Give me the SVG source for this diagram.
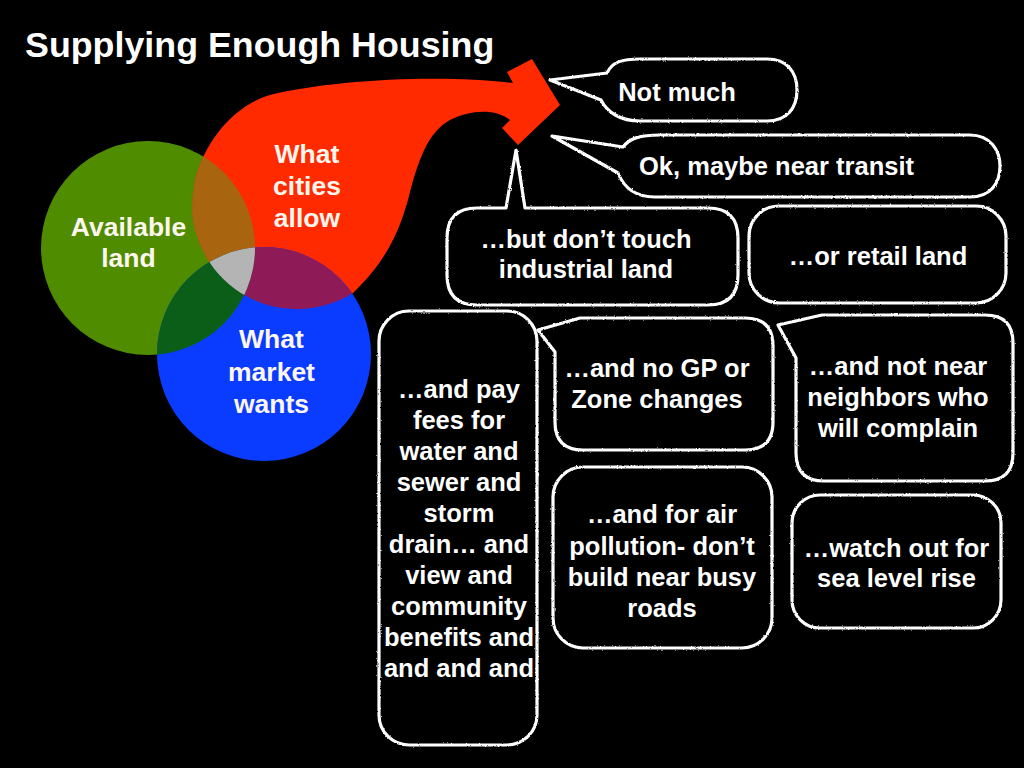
<svg xmlns="http://www.w3.org/2000/svg" width="1024" height="768" viewBox="0 0 1024 768">
<style>
.t{font-family:"Liberation Sans",Arial,sans-serif;font-weight:bold;fill:#fff;text-anchor:middle;font-size:25.5px}
.v{font-family:"Liberation Sans",Arial,sans-serif;font-weight:bold;fill:#fdf6ee;text-anchor:middle;font-size:26.5px}
.b{fill:#000;stroke:#fff;stroke-width:3.2;stroke-linejoin:round;filter:url(#rough)}
</style>
<defs>
<filter id="rough" x="-5%" y="-5%" width="110%" height="110%">
<feTurbulence type="fractalNoise" baseFrequency="0.6" numOctaves="2" seed="3" result="n"/>
<feDisplacementMap in="SourceGraphic" in2="n" scale="2.2" xChannelSelector="R" yChannelSelector="G"/>
</filter>
<path id="redShape" d="M 192,204 A 105 105 0 0 0 353,293 C 385,262 398,235 408,200 C 418,160 428,132 450,120 C 470,110 495,108 510,120 L 502,128 L 518,145 L 560,105 L 532,59 L 507,72 L 513,83 C 440,74 330,80 270,95 C 235,105 205,140 195,180 Z"/>
<clipPath id="cRed"><use href="#redShape"/></clipPath>
<clipPath id="cGreen"><circle cx="148" cy="248" r="107"/></clipPath>
<clipPath id="cBlue"><circle cx="264" cy="354" r="107"/></clipPath>
</defs>
<rect width="1024" height="768" fill="#000"/>

<g id="title">
<text x="25" y="57" style="font-family:'Liberation Sans',Arial,sans-serif;font-weight:bold;font-size:35.8px;fill:#fff">Supplying Enough Housing</text>
</g>

<g id="venn">
<circle cx="148" cy="248" r="107" fill="#4f8c00"/>
<use href="#redShape" fill="#ff2a00"/>
<circle cx="264" cy="354" r="107" fill="#0a3cff"/>
<circle cx="148" cy="248" r="107" fill="#a8640e" clip-path="url(#cRed)"/>
<circle cx="264" cy="354" r="107" fill="#8e1a58" clip-path="url(#cRed)"/>
<circle cx="264" cy="354" r="107" fill="#0b5e18" clip-path="url(#cGreen)"/>
<g clip-path="url(#cBlue)"><circle cx="148" cy="248" r="107" fill="#b4b4b4" clip-path="url(#cRed)"/></g>
</g>

<g id="node-available-land">
<text class="v" x="128.5" y="236">Available</text>
<text class="v" x="128.5" y="267">land</text>
</g>
<g id="node-cities-allow">
<text class="v" x="307" y="163">What</text>
<text class="v" x="307" y="195">cities</text>
<text class="v" x="307" y="227">allow</text>
</g>
<g id="node-market-wants">
<text class="v" x="271.5" y="348">What</text>
<text class="v" x="271.5" y="381">market</text>
<text class="v" x="271.5" y="413">wants</text>
</g>

<g id="connectors"></g>

<g id="bubble-not-much">
<path class="b" d="M 607,73 C 612,62 622,59 640,59 L 767,59 C 787,59 797,72 797,90 C 797,108 787,121 767,121 L 640,121 C 620,121 607,112 601,100 L 550,80 Z"/>
<text class="t" x="677" y="101">Not much</text>
</g>
<g id="bubble-transit">
<path class="b" d="M 623,147 C 630,138 640,135 660,135 L 970,135 C 990,135 1000,150 1000,166 C 1000,184 990,197 970,197 L 655,197 C 635,197 624,188 618,173 L 552,136 Z"/>
<text class="t" x="776.5" y="175">Ok, maybe near transit</text>
</g>
<g id="bubble-industrial">
<path class="b" d="M 525,208 L 708,208 Q 738,208 738,238 L 738,275 Q 738,305 708,305 L 477,305 Q 447,305 447,275 L 447,238 Q 447,208 477,208 L 506,208 L 516,150 Z"/>
<text class="t" x="586" y="248">…but don’t touch</text>
<text class="t" x="586" y="278">industrial land</text>
</g>
<g id="bubble-retail">
<rect class="b" x="749" y="206" width="257" height="97" rx="30"/>
<text class="t" x="878" y="265">…or retail land</text>
</g>
<g id="bubble-fees">
<rect class="b" x="379" y="311" width="158" height="434" rx="30"/>
<text class="t" x="459" y="398">…and pay</text>
<text class="t" x="459" y="429">fees for</text>
<text class="t" x="459" y="460">water and</text>
<text class="t" x="459" y="491">sewer and</text>
<text class="t" x="459" y="522">storm</text>
<text class="t" x="459" y="553">drain… and</text>
<text class="t" x="459" y="584">view and</text>
<text class="t" x="459" y="615">community</text>
<text class="t" x="459" y="646">benefits and</text>
<text class="t" x="459" y="677">and and and</text>
</g>
<g id="bubble-zone">
<path class="b" d="M 580,318 L 745,318 Q 773,318 773,346 L 773,422 Q 773,450 745,450 L 583,450 Q 555,450 555,422 L 555,352 L 538,330 Z"/>
<text class="t" x="657" y="377">…and no GP or</text>
<text class="t" x="657" y="408">Zone changes</text>
</g>
<g id="bubble-air">
<rect class="b" x="553" y="467" width="219" height="181" rx="30"/>
<text class="t" x="662" y="523">…and for air</text>
<text class="t" x="662" y="555">pollution- don’t</text>
<text class="t" x="662" y="586">build near busy</text>
<text class="t" x="662" y="617">roads</text>
</g>
<g id="bubble-neighbors">
<path class="b" d="M 822,315 L 985,315 Q 1013,315 1013,343 L 1013,453 Q 1013,481 985,481 L 824,481 Q 796,481 796,453 L 796,358 L 778,325 Z"/>
<text class="t" x="898" y="375">…and not near</text>
<text class="t" x="898" y="406">neighbors who</text>
<text class="t" x="898" y="437">will complain</text>
</g>
<g id="bubble-sea">
<rect class="b" x="792" y="495" width="209" height="133" rx="28"/>
<text class="t" x="896.5" y="557">…watch out for</text>
<text class="t" x="896.5" y="587">sea level rise</text>
</g>
</svg>
